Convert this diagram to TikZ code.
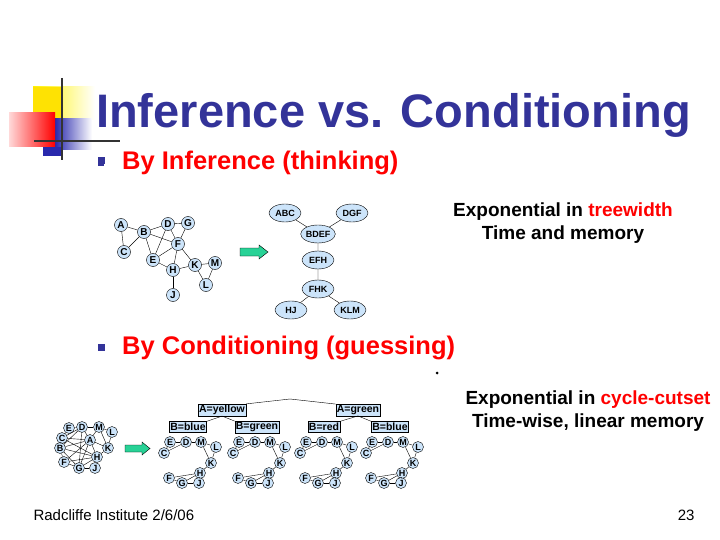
\documentclass[tikz,border=0pt]{standalone}
\usepackage{fontspec}
\setmainfont{Liberation Sans}
\usetikzlibrary{shapes.geometric}
\definecolor{ttl}{RGB}{51,51,153}
\definecolor{nfill}{RGB}{204,228,250}
\definecolor{arr}{RGB}{40,210,150}
\begin{document}
\begin{tikzpicture}[x=1pt,y=-1pt,
  gn/.style={circle,draw,fill=nfill,inner sep=0pt,minimum size=13pt,font=\fontsize{10}{10}\selectfont\bfseries},
  sn/.style={circle,draw,fill=nfill,inner sep=0pt,minimum size=11pt,font=\fontsize{9}{9}\selectfont\bfseries},
  tn/.style={ellipse,draw,fill=nfill,inner sep=0pt,minimum width=32pt,minimum height=18pt,font=\fontsize{9}{9}\selectfont\bfseries},
  bx/.style={draw,fill=nfill,inner sep=1pt,minimum height=11pt,font=\fontsize{10.5}{10.5}\selectfont\bfseries},
  bul/.style={fill=ttl},
  btxt/.style={anchor=base west,font=\fontsize{25.5}{26}\selectfont\bfseries,text=red},
  rtxt/.style={align=center,font=\fontsize{19}{23}\selectfont\bfseries}]
\useasboundingbox (0,0) rectangle (720,540);
% logo
\shade[left color=yellow!90!orange,right color=white] (33,87) rectangle (95,120);
\fill[yellow!85!orange] (33,87) rectangle (62,120);
\shade[left color=ttl!80!blue,right color=white] (55,119) rectangle (92,150);
\fill[ttl!80!blue] (43,147) rectangle (63,156);
\shade[left color=red!15,right color=red] (9,113) rectangle (55,147);
\draw[line width=1.3pt,black!80] (62,78) -- (62,160);
\draw[line width=1.3pt,black!80] (34,141) -- (120,141);
\fill[ttl] (98,160) rectangle (104,166);
\node[anchor=base west,font=\fontsize{47}{47}\selectfont\bfseries,text=ttl,inner sep=0pt] (title) at (96,128) {Inference vs. Conditioning};
% bullets
\fill[bul] (98,157) rectangle (105,164);
\node[btxt,inner sep=0pt] (t1) at (122,170) {By Inference (thinking)};
\fill[bul] (98,344) rectangle (105,351);
\node[btxt,inner sep=0pt] (t2) at (122,354) {By Conditioning (guessing)};
\fill (437,373) circle (1.5pt);
% inference graph
\foreach \n/\x/\y in {A/121/225,B/144/232,C/124/252,D/168/224,G/188/223,F/178/244,E/153/260,H/173/270,K/195/265,M/215/263,L/206/285,J/173/295}
  \node[gn] (\n) at (\x,\y) {\n};
\foreach \a/\b in {A/B,A/C,B/C,B/D,B/E,B/F,D/G,D/E,D/F,G/F,E/F,E/H,F/H,F/K,H/K,H/J,K/M,K/L,M/L}
  \draw (\a) -- (\b);
\draw[fill=arr] (240,248) -- (259,248) -- (259,245) -- (268,252) -- (259,259) -- (259,256) -- (240,256) -- cycle;
% tree decomposition
\node[tn] (abc) at (285,213) {ABC};
\node[tn] (dgf) at (352,213) {DGF};
\node[tn] (bdef) at (318,234) {BDEF};
\node[tn] (efh) at (318,260) {EFH};
\node[tn] (fhk) at (318,289) {FHK};
\node[tn] (hj) at (291,310) {HJ};
\node[tn] (klm) at (350,310) {KLM};
\draw (abc)--(bdef) (dgf)--(bdef) (bdef)--(efh) (efh)--(fhk) (fhk)--(hj) (fhk)--(klm);
\node[rtxt] (r1) at (563,223) {Exponential in \textcolor{red}{treewidth}\\Time and memory};
% conditioning graph
\foreach \n/\x/\y in {E/69/428,D/82/427,M/99/427,L/112/432,C/62/438,A/90/440,B/60/448,K/108/448,H/97/457,F/64/462,G/79/468,J/95/468}
  \node[sn] (c\n) at (\x,\y) {\n};
\foreach \a/\b in {E/D,D/M,M/L,C/E,C/B,B/F,F/G,G/J,J/H,H/K,K/L,A/D,A/M,A/B,A/C,A/H,A/G,A/F,A/K,B/D,B/H,C/D,F/H,G/H,B/G,M/K,D/G,C/H}
  \draw (c\a) -- (c\b);
\draw[fill=arr] (125,445) -- (142,445) -- (142,442) -- (150,448.5) -- (142,455) -- (142,452) -- (125,452) -- cycle;
% conditioning tree
\coordinate (top) at (290,399);
\node[bx] (ay) at (222,410) {A=yellow};
\node[bx] (ag) at (358,410) {A=green};
\draw (top) -- (ay.north east) (top) -- (ag.north west);
\node[bx] (b1b) at (188,427) {B=blue};
\node[bx] (b1g) at (257,427) {B=green};
\node[bx] (b2r) at (324,427) {B=red};
\node[bx] (b2b) at (390,427) {B=blue};
\draw (ay.south) -- (b1b.north east) (ay.south) -- (b1g.north west)
      (ag.south) -- (b2r.north east) (ag.south) -- (b2b.north west);
\foreach \cx/\k in {188/1,257/2,324/3,390/4}{
  \foreach \n/\dx/\dy in {E/-18/15,D/-2/15,M/13/15,L/28/20,C/-24/26,K/23/36,H/12/46,F/-19/51,G/-6/56,J/11/56}
    \node[sn] (s\k\n) at (\cx+\dx,427+\dy) {\n};
  \foreach \a/\b in {C/E,C/D,E/D,D/M,M/L,M/K,L/K,K/H,H/F,F/G,G/H,H/J,G/J}
    \draw (s\k\a) -- (s\k\b);
}
\node[rtxt] (r2) at (588,411) {Exponential in \textcolor{red}{cycle-cutset}\\Time-wise, linear memory};
\node[anchor=base west,font=\fontsize{15}{15}\selectfont] (foot) at (30,520) {Radcliffe Institute 2/6/06};
\node[anchor=base east,font=\fontsize{15}{15}\selectfont] (pg) at (698,520) {23};
\end{tikzpicture}
\end{document}
